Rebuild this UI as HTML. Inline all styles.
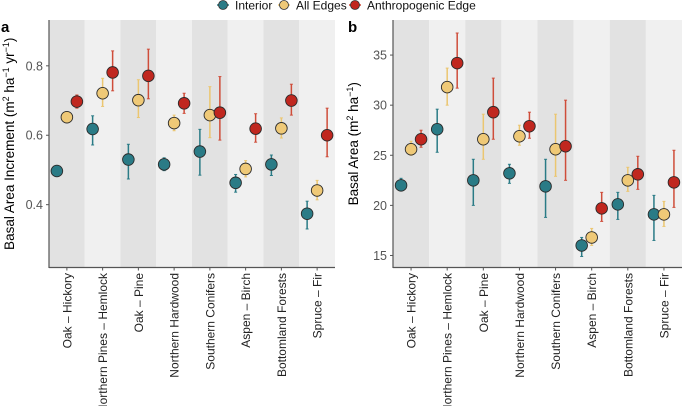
<!DOCTYPE html>
<html><head><meta charset="utf-8"><style>
body{margin:0;background:#fff;width:685px;height:406px;overflow:hidden;font-family:"Liberation Sans",sans-serif}
</style></head><body>
<svg id="s" width="685" height="406" xmlns="http://www.w3.org/2000/svg" font-family="Liberation Sans, sans-serif"></svg>
<script>
const categories=["Oak – Hickory","Northern Pines – Hemlock","Oak – Pine","Northern Hardwood","Southern Conifers","Aspen – Birch","Bottomland Forests","Spruce – Fir"];
const seriesNames=["Interior","All Edges","Anthropogenic Edge"];
const baiInterior=[0.497,0.618,0.530,0.516,0.553,0.463,0.516,0.374];
const baiInteriorLo=[0.490,0.572,0.474,0.498,0.485,0.436,0.484,0.330];
const baiInteriorHi=[0.503,0.656,0.574,0.535,0.617,0.487,0.543,0.410];
const baiAll=[0.652,0.721,0.701,0.635,0.658,0.503,0.620,0.441];
const baiAllLo=[0.638,0.683,0.651,0.613,0.593,0.480,0.592,0.414];
const baiAllHi=[0.668,0.764,0.760,0.658,0.740,0.527,0.650,0.470];
const baiAnth=[0.697,0.781,0.771,0.692,0.665,0.619,0.700,0.600];
const baiAnthLo=[0.678,0.728,0.705,0.663,0.586,0.580,0.658,0.538];
const baiAnthHi=[0.716,0.843,0.848,0.721,0.769,0.662,0.747,0.678];
const baInterior=[22.0,27.6,22.5,23.2,21.9,16.0,20.1,19.1];
const baInteriorLo=[21.5,25.3,20.0,22.2,18.8,14.9,18.6,16.5];
const baInteriorHi=[22.7,29.6,24.6,24.1,24.6,16.8,21.3,21.0];
const baAll=[25.6,31.8,26.6,26.9,25.6,16.8,22.5,19.1];
const baAllLo=[25.0,30.0,24.6,26.0,22.9,16.0,21.4,17.9];
const baAllHi=[26.4,33.7,29.1,28.0,29.1,17.7,23.8,20.4];
const baAnth=[26.6,34.2,29.3,27.9,25.9,19.7,23.1,22.3];
const baAnthLo=[25.8,31.7,26.6,26.7,22.5,18.4,21.6,19.8];
const baAnthHi=[27.5,37.2,32.7,29.3,30.5,21.3,24.9,25.5];
const ticksA=[0.4,0.6,0.8];
const ticksB=[15,20,25,30,35];

const colors=["#2a7b86","#efc977","#c0271f"];
const errColors=["#2a7b86","#ebc670","#cf4d3a"];
const svg=document.getElementById('s');
const NS="http://www.w3.org/2000/svg";
function mk(tag,attrs,parent){const e=document.createElementNS(NS,tag);for(const k in attrs)e.setAttribute(k,attrs[k]);(parent||svg).appendChild(e);return e;}

// legend
const lg=mk('g',{});


const legX=[223,284,355];
seriesNames.forEach((n,i)=>{
  const g=mk('g',{},lg);
  
  
  mk('line',{x1:legX[i]-6,x2:legX[i]+6,y1:5,y2:5,stroke:errColors[i],'stroke-width':1.5},g);
  mk('circle',{cx:legX[i],cy:5,r:4.5,fill:colors[i],stroke:'#333','stroke-width':0.8},g);
  const t=mk('text',{x:legX[i]+12,y:9.5,'font-size':12,fill:'#111'},g);t.textContent=n;
});

function panel(o){
  const g=mk('g',{});
  
  
  const L=o.x0,R=o.x1,T=20,B=267.5;
  const bw=(R-L)/categories.length;
  const y=v=>B-(v-o.ymin)/(o.ymax-o.ymin)*(B-T);
  const xc=i=>L+bw*(i+0.5);
  categories.forEach((c,i)=>{
    const r=mk('rect',{x:L+bw*i,y:T,width:bw,height:B-T,fill:i%2?'#f0f0f0':'#e2e2e2'},g);
    
    
  });
  mk('line',{x1:L,x2:L,y1:T,y2:B+0.5,stroke:'#555','stroke-width':1.2},g);
  mk('line',{x1:L,x2:R,y1:B,y2:B,stroke:'#555','stroke-width':1.2},g);
  o.ticks.forEach(t=>{
    mk('line',{x1:L-3,x2:L,y1:y(t),y2:y(t),stroke:'#555'},g);
    const tx=mk('text',{x:L-6,y:y(t)+4.5,'text-anchor':'end','font-size':12.5,fill:'#555'},g);
    tx.textContent=o.fmt(t);
    
    
  });
  categories.forEach((c,i)=>{
    mk('line',{x1:xc(i),x2:xc(i),y1:B,y2:B+3,stroke:'#555'},g);
    const tx=mk('text',{transform:`translate(${xc(i)+4.5},273) rotate(-90)`,'text-anchor':'end','font-size':12,fill:'#222'},g);
    tx.textContent=c;
    
    
  });
  const offs=[-10,0,10];
  o.series.forEach((s,k)=>{
    s.v.forEach((v,i)=>{
      const x=xc(i)+offs[k];
      const e=mk('line',{x1:x,x2:x,y1:y(s.lo[i]),y2:y(s.hi[i]),stroke:errColors[k],'stroke-width':1.5},g);
      
      
      mk('line',{x1:x-1.5,x2:x+1.5,y1:y(s.lo[i]),y2:y(s.lo[i]),stroke:errColors[k]},g);
      mk('line',{x1:x-1.5,x2:x+1.5,y1:y(s.hi[i]),y2:y(s.hi[i]),stroke:errColors[k]},g);
      const p=mk('circle',{cx:x,cy:y(v),r:5.8,fill:colors[k],stroke:'#2a2a2a','stroke-width':0.9},g);
      
      
    });
  });
  const lb=mk('text',{x:o.lx,y:32,'font-size':15,'font-weight':'bold',fill:'#000'},g);lb.textContent=o.letter;
  
  
  const yt=mk('text',{transform:`translate(${o.tx},${(T+B)/2}) rotate(-90)`,'text-anchor':'middle','font-size':13.5,fill:'#000'},g);
  yt.innerHTML=o.title;
  
  
}
panel({name:'panel-a',x0:49,x1:335,ymin:0.219,ymax:0.932,ticks:ticksA,fmt:t=>t.toFixed(1),letter:'a',lx:1,tx:14,
 title:'Basal Area Increment (m<tspan dy="-5" font-size="9">2</tspan><tspan dy="5"> ha</tspan><tspan dy="-5" font-size="9">−1</tspan><tspan dy="5"> yr</tspan><tspan dy="-5" font-size="9">−1</tspan><tspan dy="5">)</tspan>',
 series:[{v:baiInterior,lo:baiInteriorLo,hi:baiInteriorHi},{v:baiAll,lo:baiAllLo,hi:baiAllHi},{v:baiAnth,lo:baiAnthLo,hi:baiAnthHi}]});
panel({name:'panel-b',x0:393,x1:682,ymin:13.8,ymax:38.5,ticks:ticksB,fmt:t=>String(t),letter:'b',lx:348,tx:358,
 title:'Basal Area (m<tspan dy="-5" font-size="9">2</tspan><tspan dy="5"> ha</tspan><tspan dy="-5" font-size="9">−1</tspan><tspan dy="5">)</tspan>',
 series:[{v:baInterior,lo:baInteriorLo,hi:baInteriorHi},{v:baAll,lo:baAllLo,hi:baAllHi},{v:baAnth,lo:baAnthLo,hi:baAnthHi}]});
</script>
</body></html>
